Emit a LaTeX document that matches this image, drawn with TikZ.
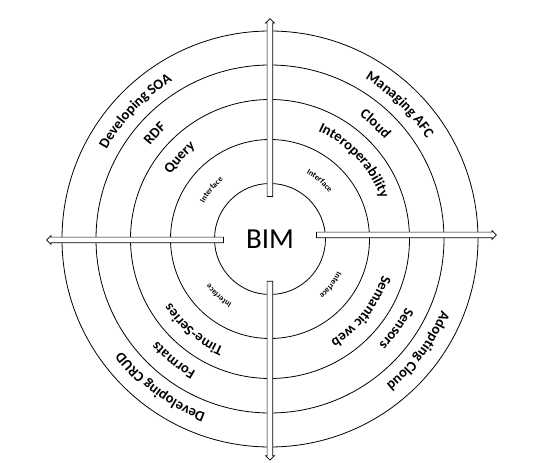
\documentclass[tikz,border=0pt]{standalone}
\usepackage{fontspec}
\setmainfont{Carlito}
\usetikzlibrary{decorations.text,shapes.arrows}

\newcommand{\bandfont}{\bfseries\fontsize{14.5}{17}\selectfont}
\newcommand{\ifacefont}{\bfseries\fontsize{8}{9.5}\selectfont}
% angle, radius, font, text
\newcommand{\ringlabel}[4]{%
  \path[decorate,decoration={text along path,text align=center,text={|#3|#4}}]
    (#1+40:#2) arc[start angle=#1+40,end angle=#1-40,radius=#2];}

\begin{document}
\begin{tikzpicture}[x=1pt,y=1pt,
  ring/.style={line width=0.8pt},
  axisarrow/.style={single arrow, draw, fill=white, line width=0.7pt,
    inner sep=2.5pt, single arrow head extend=1.6pt, single arrow tip angle=90}]
  \useasboundingbox (-270,-224) rectangle (280,239);

  % Rings
  \foreach \r in {55.5,99.5,139.5,174,208}
    \draw[ring] (0,0) circle[radius=\r];

  % Axes
  \node[axisarrow, minimum height=178pt, rotate=90] (up) at (0,130) {};
  \node[axisarrow, minimum height=179pt, rotate=-90] (down) at (0,-130.3) {};
  \node[axisarrow, minimum height=177pt, rotate=180] (left) at (-133.5,-1) {};
  \node[axisarrow, minimum height=180pt] (right) at (135,4) {};

  % Centre
  \node[font=\fontsize{29}{34}\selectfont] (bim) at (0,0) {BIM};

  % Outer band
  \ringlabel{136.5}{186}{\bandfont}{Developing SOA}
  \ringlabel{46}{186}{\bandfont}{Managing AFC}
  \ringlabel{-37}{186}{\bandfont}{Adopting Cloud}
  \ringlabel{-126.5}{186}{\bandfont}{Developing CRUD}

  % Third band
  \ringlabel{137.5}{152}{\bandfont}{RDF}
  \ringlabel{47.5}{152}{\bandfont}{Cloud}
  \ringlabel{-35.5}{152}{\bandfont}{Sensors}
  \ringlabel{-128.5}{152}{\bandfont}{Formats}

  % Second band
  \ringlabel{138}{118}{\bandfont}{Query}
  \ringlabel{43}{118}{\bandfont}{Interoperability}
  \ringlabel{-38.5}{118}{\bandfont}{Semantic web}
  \ringlabel{-130}{118}{\bandfont}{Time-Series}

  % Interfaces
  \ringlabel{140}{75}{\ifacefont}{Interface}
  \ringlabel{49.5}{75}{\ifacefont}{Interface}
  \ringlabel{-37.5}{75}{\ifacefont}{Interface}
  \ringlabel{-132}{75}{\ifacefont}{Interface}
\end{tikzpicture}
\end{document}
